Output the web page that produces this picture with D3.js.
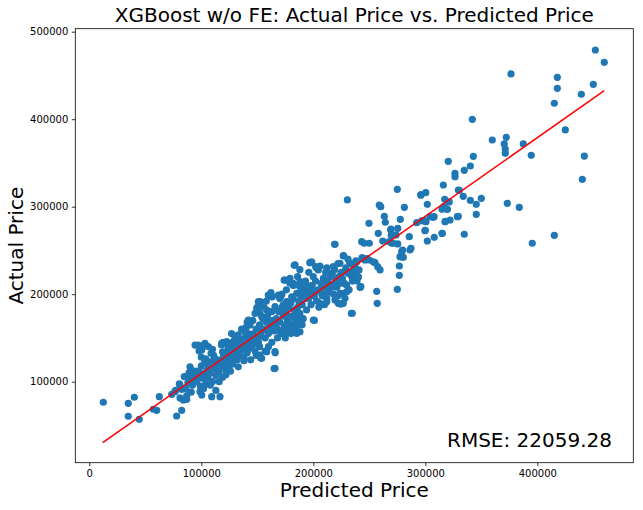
<!DOCTYPE html>
<html>
<head>
<meta charset="utf-8">
<script src="https://cdn.jsdelivr.net/npm/d3@7"></script>
<style>
  body { margin: 0; background: #fff; }
  text { font-family: "DejaVu Sans", sans-serif; }
</style>
</head>
<body>
<div class="graphic"></div>
<script>
// predicted vs actual sale price, in thousands of dollars: [predicted, actual]
const pricePoints = [
  [12.5,76.5],[34.8,75.3],[40.2,82.2],[34.8,60.5],[44.6,57],[62.5,82.9],[57.1,68.5],[60.2,67.3],
  [73.6,85.6],[76.5,88.6],[78,60.8],[82.5,67.3],[77.1,90.2],[80.4,97.4],[82.5,91.3],[84.8,105.7],
  [81,96.2],[89.9,117.1],[90.8,113.4],[81,81.4],[83.9,79.1],[87,79.9],[94.4,141.9],[97.3,141.9],
  [103.3,143.9],[106.3,140],[100.4,136.2],[108.7,132.5],[98.8,88.6],[100.4,84.8],[109.3,82.9],
  [116.7,82.9],[95.9,106.5],[119.1,144.6],
  [86,92],[88,99],[90,104],[92,96],[93,108],[91,88],[94,101],[95,112],[87,84],[89,110],
  [96,100],[97,106],[98,112],[99,95],[100,118],[101,104],[102,109],[103,122],[104,98],[100,128],
  [98,135],[105,113],[102,92],[104,126],[99,138],[101,141],
  [106,105],[107,117],[108,110],[109,123],[110,100],[111,130],[112,115],[113,107],[114,121],
  [108,96],[110,137],[112,127],[115,111],[113,90],[106,120],
  [116,112],[117,125],[118,118],[119,105],[120,130],[121,122],[122,114],[123,135],[124,127],
  [118,142],[120,145],[125,119],[116,100],[122,108],[124,140],[119,134],
  [126,125],[127,132],[128,120],[129,138],[130,128],[131,143],[132,135],[133,117],[134,148],
  [126,112],[130,150],[135,140],[128,145],[132,125],[134,130],[127,155],
  [136,136],[137,142],[138,128],[139,150],[140,140],[141,133],[142,155],[143,146],[144,125],
  [136,160],[138,124],[140,162],[145,150],[143,138],[141,168],[137,148],
  [146,142],[147,155],[148,135],[149,160],[150,150],[151,145],[152,165],[153,127],[154,158],
  [146,170],[148,178],[150,185],[152,140],[155,172],[149,130],[153,152],
  [156,160],[157,150],[158,168],[159,175],[160,155],[161,162],[162,180],[163,145],[164,170],
  [156,185],[158,192],[160,140],[165,158],[163,197],[162,166],[157,135],
  [166,165],[167,172],[168,160],[169,180],[170,168],[171,155],[172,185],[173,175],[174,162],
  [166,133],[165,115],[170,195],[174,216],[175,150],[168,150],[172,200],
  [176,178],[177,170],[178,185],[179,165],[180,190],[181,175],[182,195],[183,182],[184,160],
  [176,205],[178,215],[180,155],[183,233],[185,175],[182,210],[177,158],
  [186,185],[187,192],[188,178],[189,198],[190,188],[191,172],[192,205],[193,195],[194,182],
  [186,220],[188,228],[190,165],[195,200],[193,215],[189,210],[191,200],
  [196,195],[197,205],[198,188],[199,210],[200,200],[201,170],[202,215],[203,192],[204,205],
  [197,236],[196,225],[200,220],[205,185],[203,230],[201,198],
  [206,205],[207,212],[208,198],[209,218],[210,208],[211,225],[212,195],[213,215],[214,205],
  [206,232],[210,188],[215,220],[212,230],
  [216,210],[217,222],[218,200],[219,228],[220,215],[221,208],[222,235],[223,220],[224,189],
  [219,257],[225,225],[222,198],
  [226,218],[227,244],[228,212],[229,230],[230,225],[231,240],[232,205],[233,235],[234,178],
  [230.4,307.7],[235,215],
  [236,225],[237,232],[238,238],[240.2,220],[241.7,207.9],[242.3,208.6],[240.8,227.7],
  [243.5,241.7],[244.1,241],[239,215],
  [162.2,201.7],[168.8,199.1],[170.9,197.1],[165.8,185.7],[173.2,187.7],[176.2,191.4],[180.7,197.1],
  [185.2,201],[189.6,202.9],[150.9,191.4],[149.5,183.9],[152.4,178.2],[153.9,174.3],[158.4,172.5],
  [162.9,180],[142,170.5],[143.5,164.8],[139,157.1],[133,153.4],[130.1,147.7],[134.6,143.9],
  [138.4,138.2],[145.5,147.7],[176.2,166.7],[177.7,162.9],[183.7,168.6],[186.6,164.8],[189.6,170.5],
  [185.2,157.1],[177.7,157.1],[174.7,159.1],[173.2,155.3],[165.8,134.3],[153.9,126.7],[152.4,130.5],
  [158.4,134.3],[127.1,128.6],[121.2,130.5],[118.2,143.9],[122.7,145.7],[125.6,141.9],[130.1,138.2],
  [165.8,115.3],[163.4,197.1],[152.4,191.4],[174.7,216.2],[183.7,233.4],[197.1,236],[200,170.5],
  [179.2,218.2],[182.1,212.5],[188.1,214.3],[191.1,208.6],[194.1,210.5],
  [173.2,181.9],[179.2,174.3],[182.1,162.9],[188.1,157.1],[185.2,155.3],
  [198.6,237.1],[202.1,231.4],[204.5,227.7],[238.8,237.1],[234.3,220],[225.4,214.3],[229.8,210.5],
  [177.7,216.2],[179.2,212.5],[183.7,210.5],[188.2,208.6],[159.8,199.1],[153.9,185.7],[158.4,181.9],
  [201.5,202.9],[207.5,201],[213.4,206.7],[219.4,210.5],[225.4,201],[226.8,189.6],[183.7,168.6],
  [222.3,189.6],[212,191.4],[243.2,260],
  [217.9,231.4],[223.8,235.3],[214.9,223.9],[220.9,216.2],[217.9,208.6],[212,201],[223.8,201],
  [229.8,202.9],[225.4,212.5],[231.3,223.9],[235.7,227.7],[232.8,235.3],[219.4,193.4],[206,189.6],
  [208.9,214.3],[228.3,195.3],
  [247.7,240.6],[250,239.1],[255.1,236],[257.5,231.4],[259.6,227.7],[256.6,203.3],[257.1,189.6],
  [234.8,178.2],[224.7,188.8],[275,205.6],[276.8,221.6],[276.8,232.2],[279.8,242.2],[278.9,248.6],
  [286.3,250.5],[249.7,281],[250,258.2],[245.5,258.2],[219.4,257],[226.8,243.7],[258,269.6],
  [262,260.8],[270,258.2],[279.8,250.5],[287.2,252.5],[277.4,242.9],[269.4,274.5],[275.4,275.3],
  [269.6,267.3],[273.9,267.7],[275.4,257.4],[263.4,289],[264.3,282.2],[277.7,285.6],[258.9,301.9],
  [260.2,300],[281.3,299.3],[275,319.9],[285.7,265.7],[280.4,242.2],[253.6,237.1],[246.2,239.1],
  [269.1,273.4],[267.9,260],[271.4,258.2],[240.2,219.3],[242.3,208.6],
  [292.3,281.7],[296.8,283.7],[300.6,282.9],[304.2,288.6],[307.8,288.6],[296.2,313.4],[300.4,316],
  [301.8,302.7],[316.1,324.8],[299.7,272.6],[301.8,260.8],[308,265],[315.2,269.6],[317.6,282.9],
  [322.1,284.8],[319.6,297],[316.7,300],[321.4,305.4],[328.6,288.6],[329.5,319.1],[326.5,338.2],
  [326.5,334.3],
  [451.8,479.1],[459.8,465],[376.5,451.7],[417.9,447.9],[417.9,435.3],[450,439.9],[439.3,428.5],
  [415.2,418.2],[425,387.7],[342,399.9],[442,357.9],[440.2,331.3],[359.8,376.2],[372.3,379.3],
  [370.5,371.7],[371.4,365.9],[371.4,361],[387.5,371.7],[394.6,358.7],[342.9,357.6],[340.2,346.5],
  [334.8,341.6],[320.5,351.9],[373.2,303.9],[383.9,299.3],[395.5,258.2],[415.2,267.3],[330.4,318.7],
  [333.9,311.9],[340.2,307.3],[350,309.6],[345.5,302.7],[345.5,291.3],[334.8,268.5],[317.3,308.5],
  [314.9,297],[319.6,297],[329.5,289],[317.9,283.3],[314.9,269.6],[307.1,287.9],[299.1,284],
  [300,273],[295.9,313.4]
];

// fitted line endpoints, [predicted, actual] in dollars
const fitLine = [[11960, 30300], [459800, 432600]];

const xTicks = [0, 100000, 200000, 300000, 400000];
const yTicks = [100000, 200000, 300000, 400000, 500000];
const rmseLabel = "RMSE: 22059.28";

const width = 643, height = 510;
const plot = {left: 75.3, right: 633.3, top: 28.7, bottom: 462.7};

const svg = d3.select(".graphic")
  .append("svg")
  .attr("width", width)
  .attr("height", height);

const x = d3.scaleLinear()
  .domain([-12500, 485714])
  .range([plot.left, plot.right]);

const y = d3.scaleLinear()
  .domain([7428, 503428])
  .range([plot.bottom, plot.top]);

// points
svg.append("g")
  .selectAll("circle")
  .data(pricePoints)
  .join("circle")
  .attr("cx", d => x(d[0] * 1000))
  .attr("cy", d => y(d[1] * 1000))
  .attr("r", 3.6)
  .attr("fill", "#1f77b4");

// fit line
svg.append("path")
  .datum(fitLine)
  .attr("d", d3.line().x(d => x(d[0])).y(d => y(d[1])))
  .attr("stroke", "red")
  .attr("stroke-width", 1.5)
  .attr("fill", "none");

// axes
const xAxis = svg.append("g")
  .attr("transform", `translate(0,${plot.bottom})`)
  .call(d3.axisBottom(x).tickValues(xTicks).tickFormat(d3.format("d")).tickSize(3.5).tickPadding(3.5));

const yAxis = svg.append("g")
  .attr("transform", `translate(${plot.left},0)`)
  .call(d3.axisLeft(y).tickValues(yTicks).tickFormat(d3.format("d")).tickSize(3.5).tickPadding(3.5));

[xAxis, yAxis].forEach(a => {
  a.select(".domain").remove();
  a.selectAll("text")
    .attr("font-family", "DejaVu Sans")
    .attr("font-size", 10)
    .attr("fill", "#000");
  a.selectAll("line").attr("stroke", "#000").attr("stroke-width", 0.8);
});

// frame
svg.append("rect")
  .attr("x", plot.left)
  .attr("y", plot.top)
  .attr("width", plot.right - plot.left)
  .attr("height", plot.bottom - plot.top)
  .attr("fill", "none")
  .attr("stroke", "#000")
  .attr("stroke-width", 0.8);

// labels
svg.append("text")
  .attr("x", (plot.left + plot.right) / 2)
  .attr("y", 22)
  .attr("text-anchor", "middle")
  .attr("font-size", 20)
  .text("XGBoost w/o FE: Actual Price vs. Predicted Price");

svg.append("text")
  .attr("x", (plot.left + plot.right) / 2)
  .attr("y", 497)
  .attr("text-anchor", "middle")
  .attr("font-size", 20)
  .text("Predicted Price");

svg.append("text")
  .attr("transform", `translate(23,${(plot.top + plot.bottom) / 2}) rotate(-90)`)
  .attr("text-anchor", "middle")
  .attr("font-size", 20)
  .text("Actual Price");

svg.append("text")
  .attr("x", 612)
  .attr("y", 447)
  .attr("text-anchor", "end")
  .attr("font-size", 20)
  .text(rmseLabel);
</script>
</body>
</html>
